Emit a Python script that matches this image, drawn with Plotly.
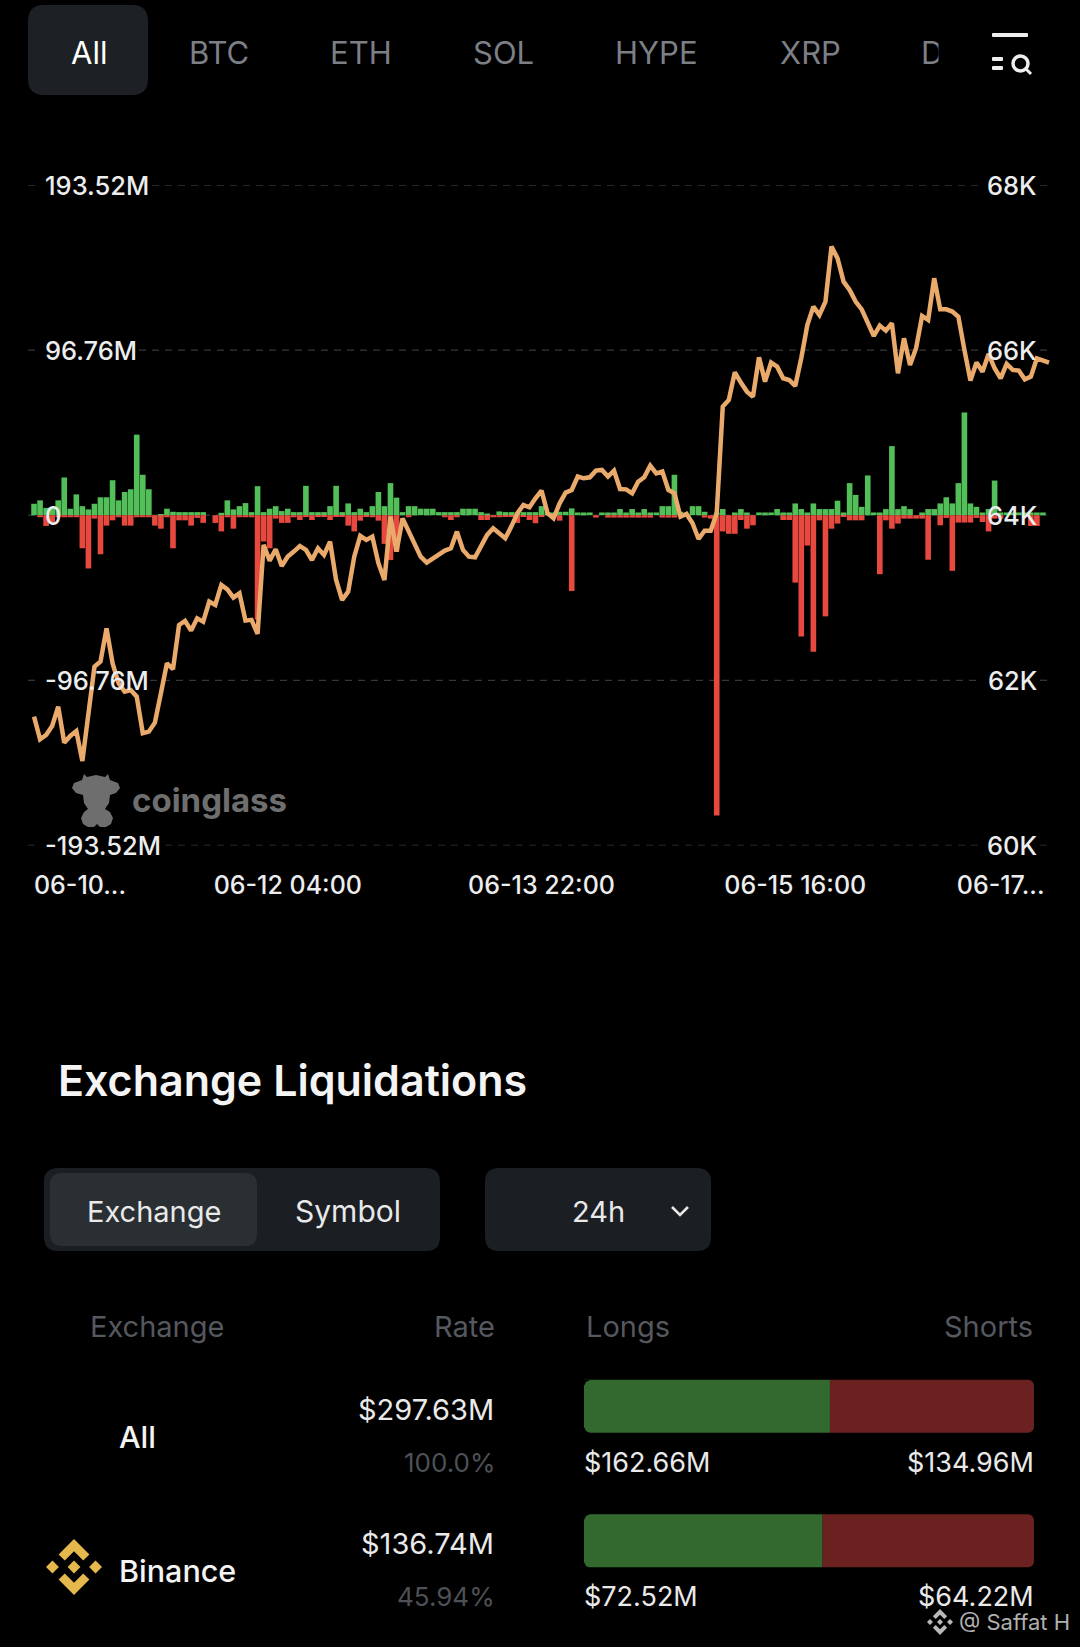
import plotly.graph_objects as go

W, H = 1080, 1647
FONT = "Inter"

# hourly slots, 06-10 10:00 is slot 0
green_vals = [6.7, 8.7, 4.3, 4.3, 8.7, 22.1, 3.8, 12.2, 5.3, 3.4, 6.7, 10.5, 10.5, 20.5, 8.7, 13.6, 15.2, 47.2, 23.7, 15.2,
              0, 0.4, 3.8, 2.0, 1.8, 1.8, 1.8, 1.8, 1.8, 0, 0, 1.4, 8.7, 3.4, 5.3, 7.1, 1.8, 17.0, 1.8, 3.8,
              5.3, 2.4, 3.8, 1.8, 1.8, 17.2, 1.8, 1.8, 1.8, 5.3, 17.2, 1.8, 6.9, 1.8, 3.8, 1.8, 5.3, 13.6, 5.3, 18.8,
              10.3, 1.8, 5.3, 5.3, 3.8, 3.8, 3.8, 1.8, 1.8, 1.8, 1.8, 3.8, 3.8, 3.8, 1.8, 1.0, 0, 2.2, 1.8, 1.8,
              1.8, 1.8, 1.8, 1.8, 5.3, 1.8, 1.6, 2.0, 2.0, 4.0, 1.6, 1.6, 1.6, 0, 1.6, 1.6, 1.6, 3.6, 1.6, 3.6,
              1.6, 3.6, 1.6, 1.6, 5.3, 5.3, 23.7, 2.0, 0, 5.3, 5.3, 2.0, 0, 1.6, 3.6, 0, 1.6, 3.6, 1.6, 0,
              1.6, 1.6, 1.6, 3.6, 1.6, 1.6, 6.9, 3.6, 1.6, 6.9, 3.6, 3.6, 3.6, 8.5, 1.6, 18.8, 11.9, 4.9, 23.3, 1.6,
              1.6, 3.6, 40.5, 3.6, 5.3, 3.6, 0, 1.6, 3.6, 3.6, 6.9, 10.5, 6.9, 18.8, 60.2, 6.9, 4.9, 1.6, 3.6, 20.3,
              1.6, 1.6, 1.6, 1.6, 1.6, 1.6, 1.6, 1.6, 0]
red_vals = [0, 1.2, 6.3, 4.5, 1.2, 1.2, 1.2, 1.2, 19.4, 31.2, 2.0, 22.9, 6.1, 3.0, 1.2, 6.1, 6.1, 1.2, 1.2, 1.2,
            6.1, 7.9, 1.2, 19.4, 3.0, 3.0, 6.1, 1.6, 4.5, 0, 4.5, 9.5, 1.2, 7.9, 1.2, 1.2, 1.2, 61.2, 15.4, 19.4,
            2.0, 4.5, 4.5, 1.2, 2.8, 0.8, 2.8, 0.8, 0.8, 2.8, 0.8, 0.8, 6.1, 9.5, 3.2, 0.8, 1.2, 3.2, 16.8, 26.3,
            21.3, 0, 1.2, 0, 0, 0, 0, 0, 1.2, 2.8, 1.2, 0, 0, 0, 2.8, 2.8, 1.2, 1.2, 0.8, 0.8,
            4.5, 0.8, 2.8, 4.7, 0.8, 0, 0, 3.2, 0, 44.4, 0, 0, 0, 1.4, 0, 1.4, 1.4, 1.4, 1.4, 1.4,
            1.4, 1.4, 1.4, 0, 1.4, 1.4, 1.4, 0, 0, 0, 0, 1.4, 2.0, 176.0, 9.5, 10.9, 10.9, 2.8, 7.9, 5.9,
            0, 0, 0, 0, 2.8, 2.8, 39.5, 71.1, 17.8, 80.0, 3.0, 59.3, 7.9, 4.9, 0.8, 3.0, 3.0, 3.0, 0, 0,
            34.6, 3.0, 7.9, 4.9, 2.0, 2.0, 2.0, 2.0, 26.1, 0, 5.9, 1.6, 32.6, 4.3, 4.3, 4.3, 1.6, 4.0, 9.5, 2.0,
            2.0, 0, 0, 0, 0, 6.3, 6.3, 0, 0]
price_vals = [61560, 61285, 61338, 61447, 61681, 61245, 61326, 61386, 61023, 61601, 62166, 62227, 62630, 62206, 61964, 61863,
              61883, 61802, 61359, 61378, 61487, 61843, 62206, 62134, 62670, 62719, 62602, 62751, 62711, 62953, 62913, 63155,
              63102, 63002, 63054, 62723, 62732, 62562, 63640, 63450, 63588, 63385, 63499, 63559, 63627, 63579, 63457, 63599,
              63519, 63680, 63215, 62973, 63074, 63498, 63749, 63701, 63741, 63418, 63215, 63983, 63559, 63962, 63801, 63648,
              63498, 63426, 63470, 63519, 63571, 63599, 63801, 63579, 63498, 63490, 63619, 63761, 63842, 63773, 63720, 63862,
              64023, 64125, 64096, 64205, 64298, 64023, 63962, 64144, 64274, 64306, 64468, 64447, 64459, 64540, 64548, 64468,
              64540, 64317, 64313, 64265, 64406, 64459, 64600, 64507, 64528, 64306, 64265, 63982, 64015, 63902, 63712, 63813,
              63813, 64023, 65316, 65396, 65731, 65607, 65497, 65436, 65913, 65618, 65849, 65800, 65659, 65638, 65566, 65905,
              66304, 66527, 66426, 66587, 67254, 67112, 66829, 66729, 66587, 66494, 66345, 66171, 66297, 66236, 66325, 65719,
              66143, 65820, 66022, 66414, 66366, 66870, 66494, 66494, 66467, 66405, 66002, 65630, 65849, 65739, 65953, 65780,
              65659, 65832, 65760, 65752, 65646, 65679, 65901, 65880, 65849]
hours = list(range(len(price_vals)))

left_ticks = [193.52, 96.76, 0, -96.76, -193.52]
left_text = ["193.52M", "96.76M", "0", "-96.76M", "-193.52M"]
right_ticks = [68000, 66000, 64000, 62000, 60000]
right_text = ["68K", "66K", "64K", "62K", "60K"]
x_ticks = [7.6, 42, 84, 126, 160]
x_text = ["06-10...", "06-12 04:00", "06-13 22:00", "06-15 16:00", "06-17..."]

tabs = ["All", "BTC", "ETH", "SOL", "HYPE", "XRP", "D"]
tab_x = [89, 219, 361, 503, 656, 810, 932]

rows = ["All", "Binance"]
rates = ["$297.63M", "$136.74M"]
shares = ["100.0%", "45.94%"]
longs = [162.66, 72.52]
shorts = [134.96, 64.22]


def px(x):
    return x / W


def py(y):
    return 1 - y / H


def box(x0, y0, x1, y1, r, color):
    p = (f"M {px(x0+r)} {py(y0)} L {px(x1-r)} {py(y0)} Q {px(x1)} {py(y0)} {px(x1)} {py(y0+r)} "
         f"L {px(x1)} {py(y1-r)} Q {px(x1)} {py(y1)} {px(x1-r)} {py(y1)} "
         f"L {px(x0+r)} {py(y1)} Q {px(x0)} {py(y1)} {px(x0)} {py(y1-r)} "
         f"L {px(x0)} {py(y0+r)} Q {px(x0)} {py(y0)} {px(x0+r)} {py(y0)} Z")
    return dict(type="path", xref="paper", yref="paper", path=p, fillcolor=color, line_width=0, layer="below")


def poly(points, color, layer="below"):
    p = "M " + " L ".join(f"{px(x)} {py(y)}" for x, y in points) + " Z"
    return dict(type="path", xref="paper", yref="paper", path=p, fillcolor=color, line_width=0, layer=layer)


def binance_logo(cx, cy, r, color):
    out = []
    for sign in (-1, 1):
        chevron = [(0, -1), (0.55, -0.45), (0.33, -0.23), (0, -0.56), (-0.33, -0.23), (-0.55, -0.45)]
        out.append(poly([(cx + a * r, cy + sign * b * r) for a, b in chevron], color))
    for dx in (-0.77, 0, 0.77):
        diamond = [(dx, -0.23), (dx + 0.23, 0), (dx, 0.23), (dx - 0.23, 0)]
        out.append(poly([(cx + a * r, cy + b * r) for a, b in diamond], color))
    return out


def label(x, y, text, color="#e9e9ea", size=29, anchor="left", weight=400):
    return dict(xref="paper", yref="paper", x=px(x), y=py(y), text=text, showarrow=False, xanchor=anchor,
                yanchor="middle", borderpad=0, font=dict(family=FONT, size=size, color=color, weight=weight))


fig = go.Figure()

# liquidations
fig.add_trace(go.Bar(x=hours, y=green_vals, marker_color="#52bf58", marker_line_width=0, width=0.93,
                     xaxis="x", yaxis="y"))
fig.add_trace(go.Bar(x=hours, y=[-v for v in red_vals], marker_color="#e7493f", marker_line_width=0, width=0.93,
                     xaxis="x", yaxis="y"))
# price
fig.add_trace(go.Scatter(x=hours, y=price_vals, mode="lines", line=dict(color="#eaaa6b", width=4.5),
                         xaxis="x", yaxis="y2"))

# longs / shorts split per exchange
long_frac = [a / (a + b) for a, b in zip(longs, shorts)]
short_frac = [b / (a + b) for a, b in zip(longs, shorts)]
fig.add_trace(go.Bar(y=rows, x=long_frac, orientation="h", marker_color="#33692e", marker_line_width=0, width=0.395,
                     xaxis="x2", yaxis="y3"))
fig.add_trace(go.Bar(y=rows, x=short_frac, orientation="h", marker_color="#6b211f", marker_line_width=0, width=0.395,
                     marker_cornerradius=6, xaxis="x2", yaxis="y3"))

shapes = []
# dashed grid with gaps around the labels
grid_start = [152, 139, 60, 150, 165]
for val, start in zip(left_ticks, grid_start):
    for a, b in [(28, 38), (start, 982), (1040, 1052)]:
        shapes.append(dict(type="line", xref="paper", yref="y", x0=px(a), x1=px(b), y0=val, y1=val, layer="below",
                           line=dict(color="#34363a", width=1.3, dash="7px,6px")))

# top tabs and controls
shapes.append(box(28, 5, 148, 95, 16, "#1d2024"))
shapes.append(box(992, 33, 1028, 37, 1, "#eeeeee"))
shapes.append(box(992, 57, 1003, 61, 1, "#eeeeee"))
shapes.append(box(992, 66, 1003, 70, 1, "#eeeeee"))
shapes.append(dict(type="circle", xref="paper", yref="paper", x0=px(1013), x1=px(1028), y0=py(56), y1=py(71),
                   line=dict(color="#eeeeee", width=3.5), layer="below"))
shapes.append(dict(type="line", xref="paper", yref="paper", x0=px(1025), x1=px(1031), y0=py(68), y1=py(74),
                   line=dict(color="#eeeeee", width=3), layer="below"))
shapes.append(box(44, 1168, 440, 1251, 14, "#1b1e22"))
shapes.append(box(50, 1173, 257, 1246, 12, "#2a2f34"))
shapes.append(box(485, 1168, 711, 1251, 14, "#1b1e22"))
shapes.append(dict(type="path", xref="paper", yref="paper",
                   path=f"M {px(672)} {py(1207)} L {px(680)} {py(1215)} L {px(688)} {py(1207)}",
                   line=dict(color="#e6e6e6", width=2.6), layer="below"))

# rounded left ends of the split bars
for top, bot in [(1380, 1433), (1514, 1568)]:
    shapes.append(poly([(584, top), (590, top), (586, top + 2), (584, top + 6)], "#000000", "above"))
    shapes.append(poly([(584, bot), (590, bot), (586, bot - 2), (584, bot - 6)], "#000000", "above"))

# coinglass bull
bull = [(84, 774), (87, 777), (96, 775), (105, 777), (108, 774), (110, 780), (118, 783), (120, 788), (116, 793),
        (110, 795), (109, 803), (105, 809), (110, 812), (113, 818), (111, 824), (106, 827), (100, 827), (97, 824),
        (94, 827), (88, 827), (83, 824), (81, 818), (84, 812), (88, 809), (84, 803), (83, 795), (76, 793), (72, 788),
        (74, 783), (82, 780)]
shapes.append(poly(bull, "#6e6e6e"))

shapes += binance_logo(74, 1567, 28, "#e4b84d")
shapes += binance_logo(940, 1622, 13, "#b9b9b9")

notes = []
for i, (name, x) in enumerate(zip(tabs, tab_x)):
    notes.append(label(x, 53, name, "#ffffff" if i == 0 else "#7c7f86", 31, "center"))
# the last tab is cut off by the icon column
notes.append(dict(xref="paper", yref="paper", x=px(938), y=py(53), xanchor="left", yanchor="middle", text=" ",
                  showarrow=False, width=12, height=34, bgcolor="#000000"))

# axis labels sit above the line and the bars, so they go in as annotations
for val, text in zip(left_ticks, left_text):
    notes.append(dict(xref="paper", yref="y", x=px(43), y=val, text=text, showarrow=False, xanchor="left",
                      yanchor="middle", font=dict(family=FONT, size=25.5, color="#ecedee", weight=500)))
for val, text in zip(right_ticks, right_text):
    notes.append(dict(xref="paper", yref="y2", x=px(1039), y=val, text=text, showarrow=False, xanchor="right",
                      yanchor="middle", font=dict(family=FONT, size=25.5, color="#ecedee", weight=500)))

notes.append(label(131, 800, "coinglass", "#6e6e6e", 33, "left", 700))
notes.append(label(57, 1080, "Exchange Liquidations", "#f4f4f4", 43, "left", 600))
notes.append(label(154, 1211, "Exchange", "#e9e9ea", 29, "center"))
notes.append(label(348, 1211, "Symbol", "#e9e9ea", 30, "center"))
notes.append(label(598, 1211, "24h", "#e9e9ea", 29, "center"))
notes.append(label(89, 1326, "Exchange", "#55585e", 29))
notes.append(label(496, 1326, "Rate", "#55585e", 29, "right"))
notes.append(label(585, 1326, "Longs", "#55585e", 29))
notes.append(label(1034, 1326, "Shorts", "#55585e", 29, "right"))
row_y = [1436, 1570]
for name, rate, share, lo, sh, y in zip(rows, rates, shares, longs, shorts, row_y):
    notes.append(label(118, y, name, "#f4f4f4", 30.5, "left", 500))
    notes.append(label(495, y - 27, rate, "#e9e9ea", 29, "right"))
    notes.append(label(496, y + 26, share, "#4d5055", 26, "right"))
    notes.append(label(583, y + 26, f"${lo:.2f}M", "#e9e9ea", 27))
    notes.append(label(1035, y + 26, f"${sh:.2f}M", "#e9e9ea", 27, "right"))
notes.append(label(1071, 1622, "@ Saffat H", "#b0b0b0", 22, "right"))

fig.update_layout(
    width=W, height=H, margin=dict(l=0, r=0, t=0, b=0),
    paper_bgcolor="#000000", plot_bgcolor="rgba(0,0,0,0)", showlegend=False, barmode="relative",
    font=dict(family=FONT, color="#ecedee"),
    shapes=shapes, annotations=notes,
    xaxis=dict(domain=[px(28), px(1052)], range=[-1, 168.5], tickmode="array", tickvals=x_ticks, ticktext=x_text,
               showgrid=False, zeroline=False, showline=False, ticklen=0, tickfont=dict(size=25, weight=500),
               ticklabelstandoff=23, anchor="y"),
    yaxis=dict(domain=[py(845.4), py(185)], range=[-193.52, 193.52], showticklabels=False, showgrid=False,
               zeroline=False, showline=False, ticklen=0, anchor="x"),
    yaxis2=dict(domain=[py(845.4), py(185)], range=[60000, 68000], showticklabels=False, overlaying="y", side="right",
                showgrid=False, zeroline=False, showline=False, ticklen=0, anchor="x"),
    xaxis2=dict(domain=[px(584), px(1034)], range=[0, 1], visible=False, anchor="y3"),
    yaxis3=dict(domain=[py(1608), py(1339)], autorange="reversed", visible=False, anchor="x2"),
)

fig.write_html("out.html", config={"displayModeBar": False},
               post_script="document.body.style.margin='0';document.body.style.background='#000';")
